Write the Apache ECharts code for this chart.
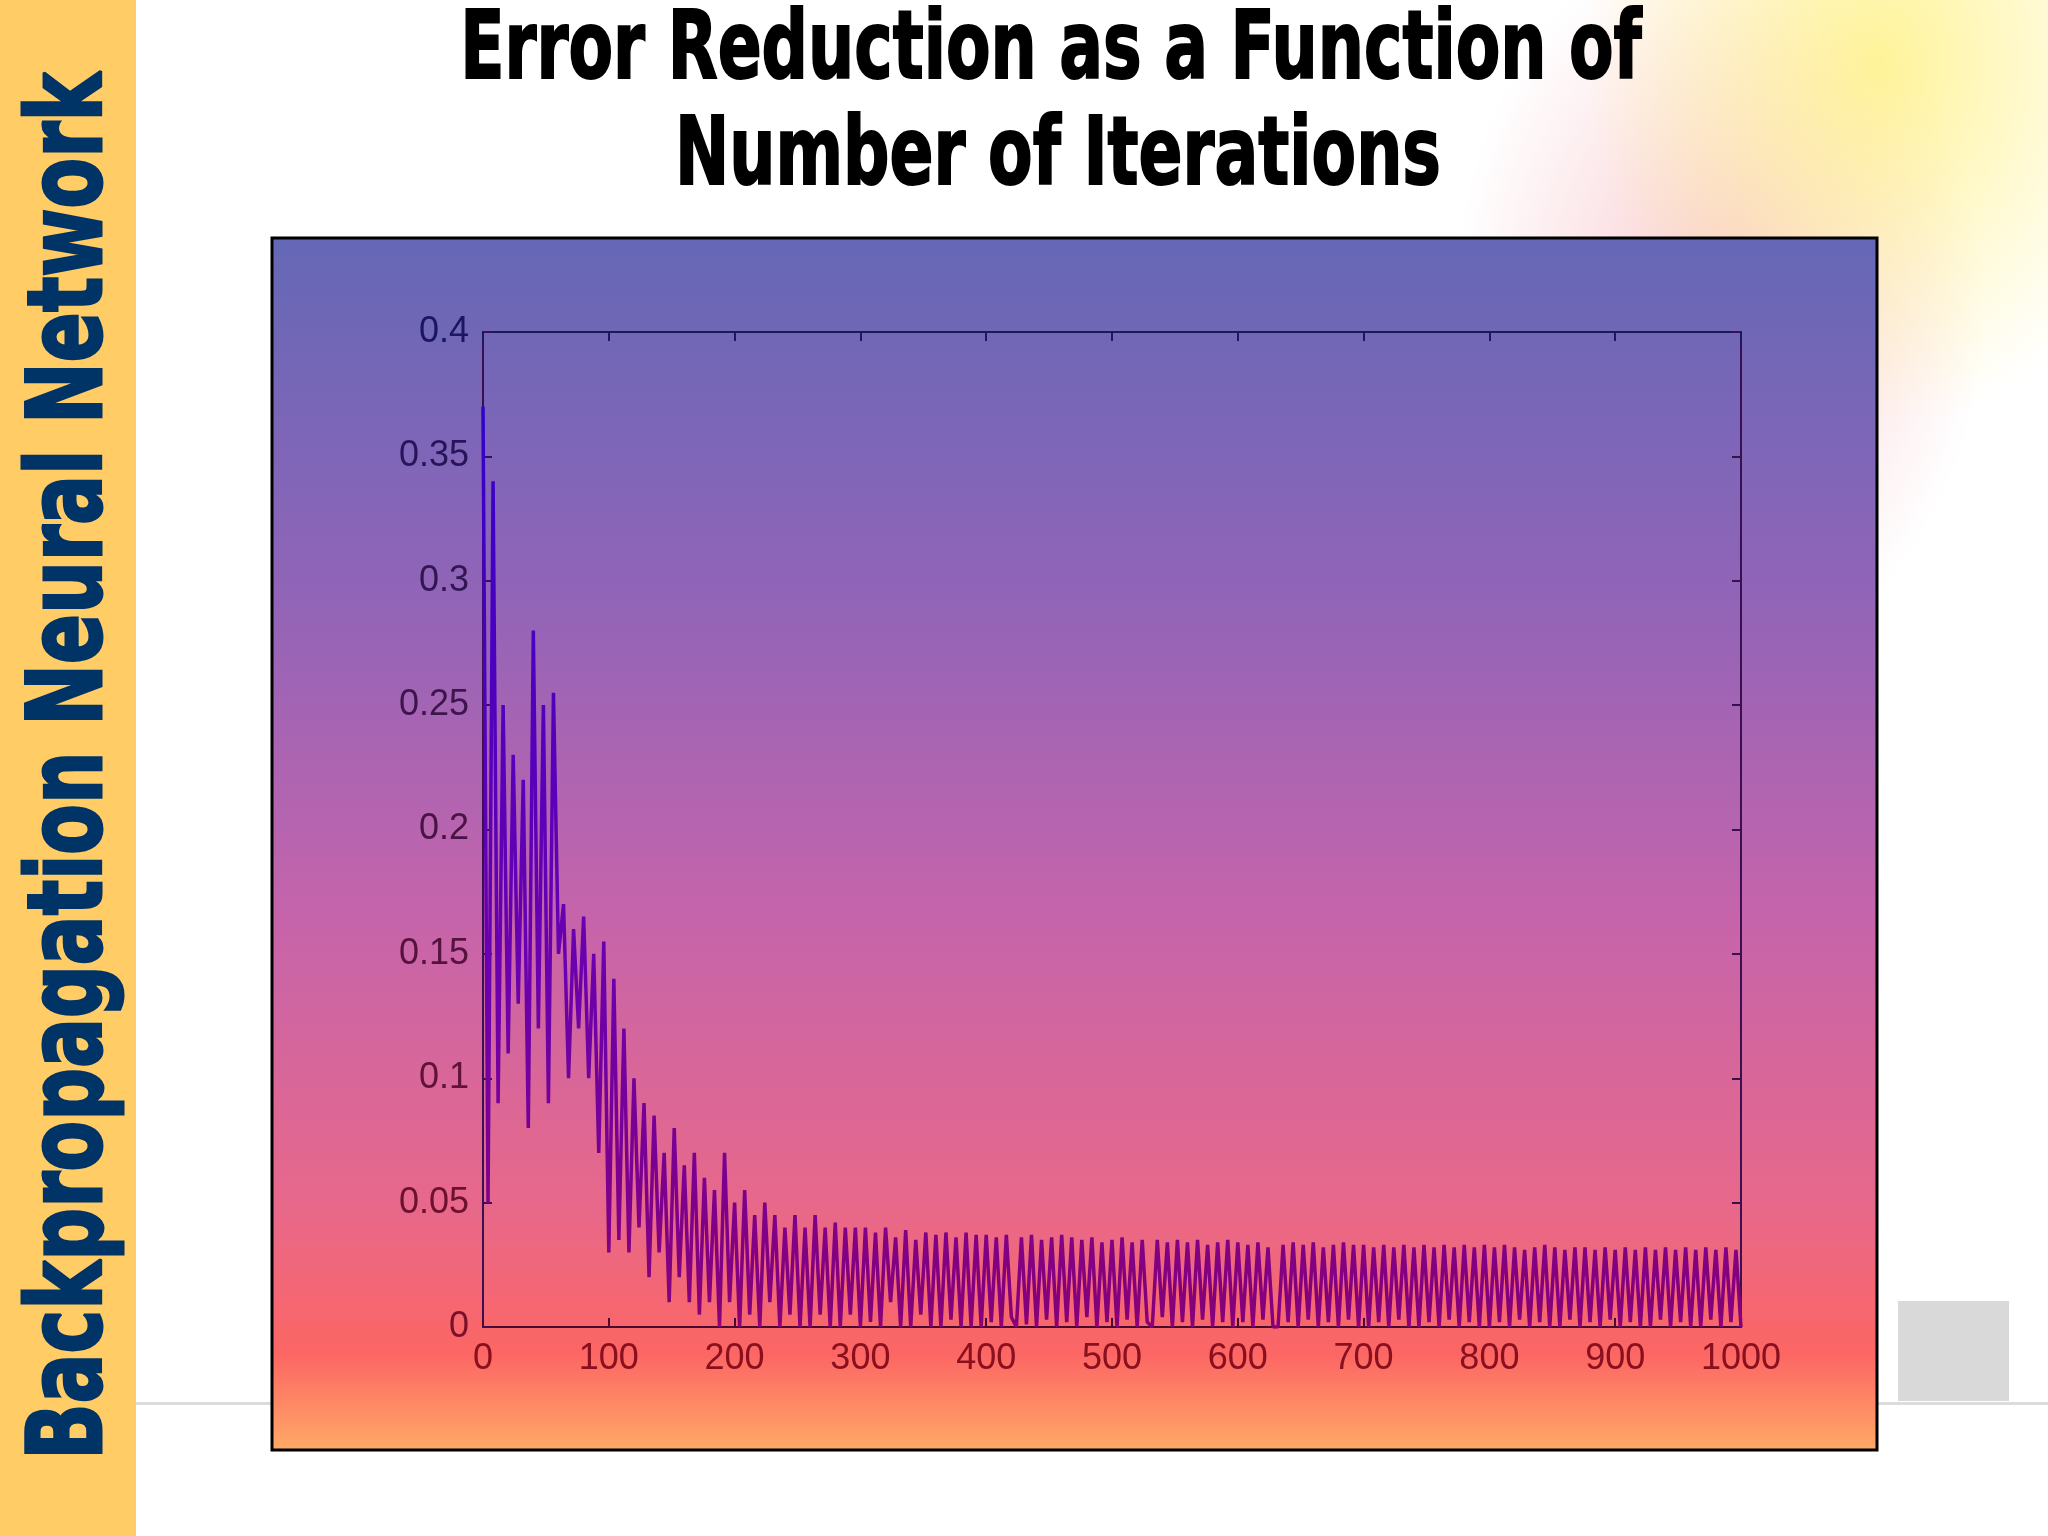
<!DOCTYPE html>
<html><head><meta charset="utf-8">
<script src="https://cdn.jsdelivr.net/npm/echarts@6/dist/echarts.min.js"></script>
<style>
html,body{margin:0;padding:0;width:2048px;height:1536px;overflow:hidden;
background:radial-gradient(ellipse 420px 520px at 1880px 60px,rgba(255,240,120,0.75),rgba(255,255,255,0) 70%),
radial-gradient(ellipse 380px 520px at 1720px 300px,rgba(245,170,180,0.6),rgba(255,255,255,0) 70%),#ffffff;}
#c{position:absolute;left:0;top:0;width:2048px;height:1536px;}
</style></head><body>
<div id="c"></div>
<script>
const titleLines = ["Error Reduction as a Function of", "Number of Iterations"];
const sideLabel = "Backpropagation Neural Network";
const step = 4;
const errA = [0.37,0.05,0.34,0.09,0.25,0.11,0.23,0.13,0.22,0.08,0.28,0.12,0.25,0.09,0.255,0.15,0.17,0.10,0.16,0.12,0.165,0.10,0.15,0.07,0.155];
const errB = [0.03,0.14,0.035,0.12,0.03,0.10,0.04,0.09,0.02,0.085,0.03,0.07,0.01,0.08,0.02,0.065,0.01,0.07,0.005,0.06,0.01,0.055,0.0,0.07,0.01];
const errC = [0.05,0.0,0.055,0.005,0.045,0.0,0.05,0.01,0.045,0.0,0.04,0.005,0.045,0.0,0.04,0.0,0.045,0.005,0.04,0.0,0.042,0.0,0.04,0.005,0.04];
const errD = [0,0.04,0.002,0.038,0,0.04,0.01,0.036,0,0.039,0,0.035,0.005,0.038,0,0.037,0,0.038,0.003,0.036,0,0.038,0,0.037,0];
const errE = [0.037,0.002,0.036,0,0.037,0.004,0,0.036,0.001,0.037,0,0.035,0.003,0.036,0,0.037,0.002,0.036,0,0.035,0.004,0.036,0,0.034,0.002];
const errF = [0.035,0,0.036,0.003,0.034,0,0.035,0.002,0,0.035,0.004,0.034,0,0.035,0.002,0.034,0,0.035,0.003,0.033,0,0.034,0.002,0.035,0];
const errG = [0.034,0.002,0.033,0,0.034,0.003,0.032,0,0,0.033,0.002,0.034,0,0.033,0.003,0.034,0,0.032,0.002,0.033,0,0.034,0.003,0.033,0];
const errH = [0.033,0,0.032,0.002,0.033,0,0.032,0.003,0.033,0,0.032,0,0.033,0.002,0.032,0,0.033,0.003,0.032,0,0.033,0.002,0.032,0,0.033];
const errI = [0,0.032,0.002,0.033,0,0.032,0.003,0.031,0,0.032,0.002,0.033,0,0.032,0,0.031,0.003,0.032,0,0.032,0.002,0.031,0,0.032,0.003];
const errJ = [0.031,0,0.032,0.002,0.031,0,0.032,0,0.031,0.003,0.032,0,0.031,0.002,0.032,0,0.031,0,0.032,0.003,0.031,0,0.032,0.002,0.031,0];
const errors = [].concat(errA,errB,errC,errD,errE,errF,errG,errH,errI,errJ);
const data = errors.map((v,i)=>[i*step, v]);

function yColor(v){
  const t = Math.max(0,Math.min(1,Number(v)/0.4));
  const a=[120,16,40], b=[26,22,96];
  return 'rgb('+a.map((c,i)=>Math.round(c+(b[i]-c)*t)).join(',')+')';
}
const chart = echarts.init(document.getElementById('c'));
const G = {left:483, top:332, width:1258, height:995};
const FF = '"Liberation Sans", Arial, sans-serif';
const BOLD = '"DejaVu Sans", sans-serif';
function axisCommon(color){
  return {axisLine:{show:true,onZero:false,lineStyle:{color:color,width:2}},
          axisTick:{show:true,inside:true,length:9,lineStyle:{color:color,width:2}},
          splitLine:{show:false}};
}
chart.setOption({
  backgroundColor:'transparent',
  animation:false,
  graphic:[
    {type:'rect', shape:{x:0,y:0,width:136,height:1536}, style:{fill:'#ffcc66'}, z:-5},
    {type:'rect', shape:{x:136,y:1402,width:1912,height:3}, style:{fill:'#dcdcdc'}, z:-5},
    {type:'rect', shape:{x:1898,y:1301,width:111,height:100}, style:{fill:'#d9d9d9'}, z:-5},
    {type:'text', x:74, y:766, rotation:Math.PI/2, scaleX:0.71, style:{text:sideLabel, fill:'#003366',
      stroke:'#003366', lineWidth:3, font:'bold 104px '+BOLD, textAlign:'center', textVerticalAlign:'middle'}, z:1},
    {type:'text', x:1051, y:54, scaleX:0.69, style:{text:titleLines[0], fill:'#000', stroke:'#000', lineWidth:2,
      font:'bold 94px '+BOLD, textAlign:'center', textVerticalAlign:'middle'}, z:1},
    {type:'text', x:1058, y:160, scaleX:0.69, style:{text:titleLines[1], fill:'#000', stroke:'#000', lineWidth:2,
      font:'bold 94px '+BOLD, textAlign:'center', textVerticalAlign:'middle'}, z:1},
    {type:'rect', shape:{x:272,y:238,width:1605,height:1212}, z:-1,
      style:{stroke:'#000', lineWidth:3, fill:{type:'linear',x:0,y:0,x2:0,y2:1,global:false,colorStops:[
        {offset:0,color:'#6468b6'},{offset:0.3,color:'#9264b8'},{offset:0.55,color:'#c464ac'},
        {offset:0.8,color:'#e8688a'},{offset:0.92,color:'#fc6664'},{offset:1,color:'#ffaa66'}]}}}
  ],
  grid:[{left:G.left, top:G.top, width:G.width, height:G.height, show:false}],
  xAxis:[
    Object.assign({type:'value', min:0, max:1000, interval:100, position:'bottom',
     axisLabel:{color:'#8a1020', margin:14, fontFamily:FF, fontSize:36, formatter:v=>String(v)}}, axisCommon('#4a0a30')),
    Object.assign({type:'value', min:0, max:1000, interval:100, position:'top', axisLabel:{show:false}}, axisCommon('#1a1a5a'))
  ],
  yAxis:[
    Object.assign({type:'value', min:0, max:0.4, interval:0.05, position:'left',
     axisLabel:{color:yColor, margin:14, fontFamily:FF, fontSize:36, formatter:v=>String(+v.toFixed(2))}}, axisCommon('#3a1050')),
    Object.assign({type:'value', min:0, max:0.4, interval:0.05, position:'right', axisLabel:{show:false}}, axisCommon('#3a1050'))
  ],
  series:[{type:'line', data:data, showSymbol:false, xAxisIndex:0, yAxisIndex:0,
    lineStyle:{width:3.5, color:{type:'linear',x:0,y:0,x2:0,y2:1,colorStops:[{offset:0,color:'#3300cc'},{offset:0.6,color:'#6a00b0'},{offset:1,color:'#880078'}]}}}]
});
</script></body></html>
